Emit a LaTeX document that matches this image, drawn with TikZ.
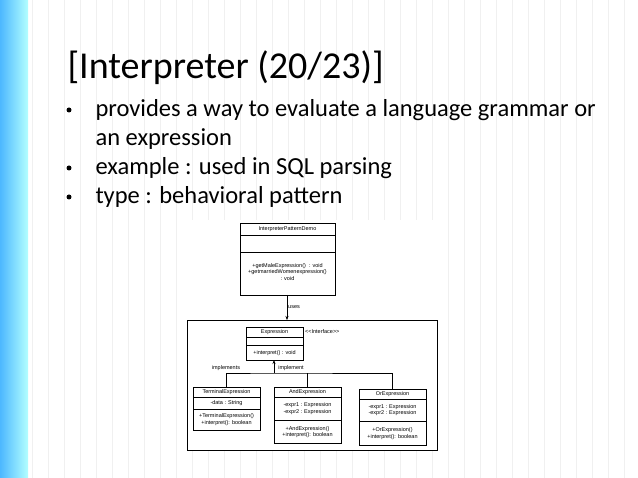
\documentclass[tikz,border=0pt]{standalone}
\usepackage{fontspec}
\setmainfont{Carlito}
\newfontfamily\umlfont{Liberation Sans}
\usetikzlibrary{arrows.meta}
\begin{document}
\begin{tikzpicture}[x=1pt,y=-1pt,
  uml/.style={font=\umlfont\fontsize{5.5}{6.5}\selectfont,inner sep=1pt},
  box/.style={draw,line width=0.8pt},
  bl/.style={font=\fontsize{24.5}{29}\selectfont,anchor=west},
  dot/.style={circle,fill,inner sep=0pt,minimum size=5pt}]
\useasboundingbox (0,0) rectangle (638,478);
\fill[white] (0,0) rectangle (638,478);
\draw[black!6,step=16] (0,0) grid (638,478);
\shade[left color=cyan!60!blue!70,right color=cyan!30] (0,0) rectangle (28,478);
\node[font=\fontsize{38}{44}\selectfont,anchor=west] (title) at (64,68) {[Interpreter (20/23)]};
\node[dot] (b1d) at (69,110) {};
\node[bl] (b1) at (92,110) {provides a way to evaluate a language grammar or};
\node[bl] (b1b) at (92,139) {an expression};
\node[dot] (b2d) at (69,168) {};
\node[bl] (b2) at (92,168) {example : used in SQL parsing};
\node[dot] (b3d) at (69,197) {};
\node[bl] (b3) at (92,197) {type : behavioral pattern};
% diagram
\fill[white] (185,220) rectangle (440,451);
\draw[box] (240,223) rectangle (335,295);
\draw (240,235) -- (335,235); \draw (240,252) -- (335,252);
\node[uml] (ipd) at (287.5,229) {InterpreterPatternDemo};
\node[uml,align=center] (ipdm) at (287.5,272) {+getMaleExpression()\ \ : void\\+getmarriedWomenexpression()\\: void};
\coordinate (ipdb) at (287,295);
\draw[box] (187,320) rectangle (437,450);
\coordinate (bigt) at (287,320);
\draw[-{Stealth[length=4pt]}] (ipdb) -- (bigt) node[midway,right,uml] {uses};
\draw[box] (246,327) rectangle (303,360);
\draw (246,337) -- (303,337); \draw (246,345) -- (303,345);
\node[uml] (expr) at (274.5,332) {Expression};
\node[uml] (exprm) at (274.5,353) {+interpret() : void};
\node[uml,anchor=west] (intf) at (304,332) {<<Interface>>};
\coordinate (exb) at (274,360);
% classes
\draw[box] (193,387) rectangle (260,430);
\draw (193,397) -- (260,397); \draw (193,409) -- (260,409);
\node[uml] (te) at (226.5,392) {TerminalExpression};
\node[uml] (ted) at (226.5,403) {-data : String};
\node[uml,align=center] (tem) at (226.5,419.5) {+TerminalExpression()\\+interpret(): boolean};
\draw[box] (274,387) rectangle (341,443);
\draw (274,397) -- (341,397); \draw (274,420) -- (341,420);
\node[uml] (ae) at (307.5,392) {AndExpression};
\node[uml,align=center] (aed) at (307.5,408.5) {-expr1 : Expression\\-expr2 : Expression};
\node[uml,align=center] (aem) at (307.5,432) {+AndExpression()\\+interpret(): boolean};
\draw[box] (359,389) rectangle (426,445);
\draw (359,399) -- (426,399); \draw (359,421) -- (426,421);
\node[uml] (oe) at (392.5,394) {OrExpression};
\node[uml,align=center] (oed) at (392.5,410) {-expr1 : Expression\\-expr2 : Expression};
\node[uml,align=center] (oem) at (392.5,433.5) {+OrExpression()\\+interpret(): boolean};
\draw[line width=0.8pt] (226,387) |- (274,373) -| (392,389);
\draw[line width=0.8pt] (307,387) -- (307,373);
\draw[line width=0.8pt,-{Stealth[length=4pt]}] (274,373) -- (exb);
\node[uml] at (226,368) {implements};
\node[uml] at (291,368) {implement};
\end{tikzpicture}
\end{document}
